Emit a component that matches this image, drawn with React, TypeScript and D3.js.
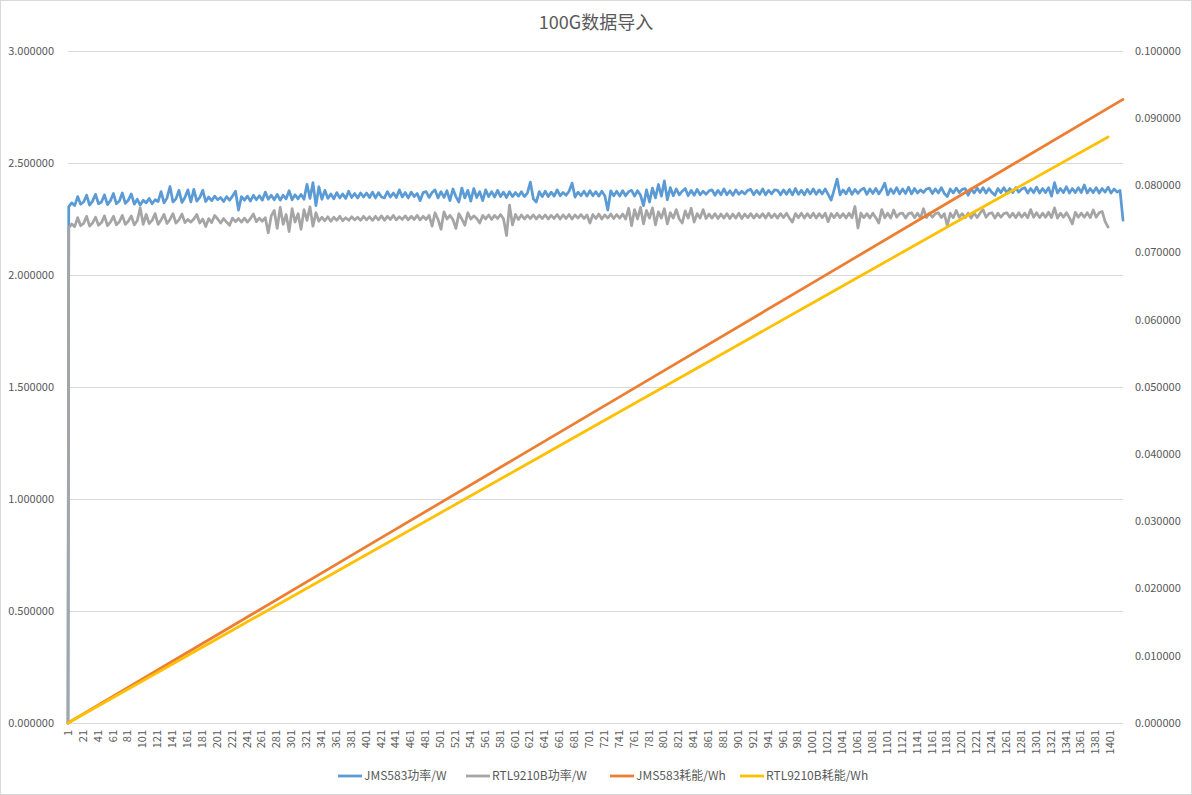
import { useEffect, useRef } from 'react';
import * as d3 from 'd3';

// power samples: first reading at category 1, then one reading every 4 categories from category 2
const CAT_COUNT = 1418;
const SAMPLE_STEP = 4;
const FIRST_READING = 0;

const jmsPower = [
  2.305, 2.322, 2.310, 2.350, 2.316, 2.326, 2.356, 2.312, 2.330, 2.360, 2.318, 2.326, 2.358, 2.314, 2.332, 2.364, 2.318, 2.330, 2.366, 2.320,
  2.334, 2.362, 2.316, 2.338, 2.312, 2.334, 2.322, 2.342, 2.318, 2.336, 2.328, 2.372, 2.322, 2.344, 2.395, 2.326, 2.340, 2.378, 2.324, 2.346,
  2.380, 2.326, 2.382, 2.330, 2.346, 2.378, 2.328, 2.348, 2.332, 2.352, 2.336, 2.346, 2.328, 2.350, 2.334, 2.352, 2.374, 2.290, 2.350, 2.334,
  2.352, 2.330, 2.356, 2.336, 2.354, 2.334, 2.370, 2.338, 2.356, 2.336, 2.360, 2.334, 2.356, 2.340, 2.376, 2.336, 2.358, 2.340, 2.360, 2.338,
  2.405, 2.342, 2.412, 2.310, 2.394, 2.338, 2.378, 2.342, 2.362, 2.340, 2.368, 2.344, 2.362, 2.342, 2.374, 2.346, 2.364, 2.344, 2.366, 2.348,
  2.366, 2.346, 2.370, 2.344, 2.368, 2.348, 2.344, 2.372, 2.348, 2.366, 2.346, 2.380, 2.348, 2.368, 2.344, 2.370, 2.350, 2.364, 2.332, 2.368,
  2.372, 2.346, 2.368, 2.380, 2.344, 2.372, 2.346, 2.376, 2.332, 2.384, 2.350, 2.326, 2.388, 2.344, 2.378, 2.330, 2.386, 2.346, 2.372, 2.332,
  2.380, 2.350, 2.372, 2.348, 2.378, 2.350, 2.370, 2.346, 2.372, 2.350, 2.368, 2.352, 2.372, 2.350, 2.366, 2.415, 2.340, 2.326, 2.372, 2.350,
  2.374, 2.350, 2.370, 2.352, 2.380, 2.354, 2.368, 2.356, 2.374, 2.410, 2.348, 2.370, 2.354, 2.374, 2.352, 2.376, 2.354, 2.372, 2.352, 2.374,
  2.354, 2.290, 2.376, 2.354, 2.374, 2.352, 2.376, 2.354, 2.372, 2.378, 2.352, 2.376, 2.356, 2.310, 2.380, 2.326, 2.388, 2.344, 2.404, 2.352,
  2.420, 2.336, 2.390, 2.354, 2.384, 2.358, 2.374, 2.386, 2.354, 2.378, 2.356, 2.382, 2.358, 2.374, 2.360, 2.376, 2.380, 2.356, 2.378, 2.358,
  2.384, 2.358, 2.376, 2.356, 2.380, 2.360, 2.374, 2.362, 2.378, 2.382, 2.358, 2.378, 2.360, 2.384, 2.358, 2.378, 2.362, 2.380, 2.378, 2.358,
  2.380, 2.360, 2.382, 2.358, 2.386, 2.360, 2.378, 2.358, 2.382, 2.362, 2.384, 2.360, 2.380, 2.362, 2.384, 2.360, 2.334, 2.380, 2.428, 2.358,
  2.380, 2.362, 2.388, 2.360, 2.382, 2.364, 2.380, 2.388, 2.360, 2.384, 2.364, 2.386, 2.362, 2.382, 2.410, 2.358, 2.384, 2.364, 2.390, 2.362,
  2.384, 2.364, 2.392, 2.362, 2.386, 2.366, 2.380, 2.368, 2.384, 2.388, 2.364, 2.384, 2.366, 2.390, 2.364, 2.350, 2.384, 2.366, 2.388, 2.368,
  2.382, 2.386, 2.356, 2.384, 2.366, 2.388, 2.368, 2.390, 2.366, 2.386, 2.368, 2.356, 2.386, 2.368, 2.390, 2.366, 2.386, 2.368, 2.390, 2.370,
  2.384, 2.390, 2.366, 2.386, 2.368, 2.392, 2.366, 2.386, 2.368, 2.390, 2.352, 2.412, 2.366, 2.386, 2.368, 2.394, 2.366, 2.386, 2.368, 2.390,
  2.368, 2.402, 2.366, 2.386, 2.368, 2.390, 2.366, 2.386, 2.370, 2.392, 2.366, 2.384, 2.370, 2.378, 2.245,
];

const rtlPower = [
  2.210, 2.228, 2.216, 2.256, 2.220, 2.230, 2.262, 2.218, 2.232, 2.258, 2.222, 2.234, 2.264, 2.220, 2.236, 2.262, 2.224, 2.238, 2.266, 2.226,
  2.240, 2.264, 2.224, 2.242, 2.300, 2.226, 2.270, 2.230, 2.244, 2.274, 2.226, 2.246, 2.270, 2.230, 2.248, 2.274, 2.232, 2.246, 2.272, 2.234,
  2.248, 2.236, 2.250, 2.270, 2.232, 2.250, 2.216, 2.252, 2.234, 2.266, 2.250, 2.232, 2.252, 2.236, 2.222, 2.254, 2.238, 2.252, 2.236, 2.254,
  2.236, 2.252, 2.272, 2.238, 2.254, 2.240, 2.256, 2.188, 2.264, 2.288, 2.208, 2.302, 2.226, 2.270, 2.194, 2.296, 2.236, 2.274, 2.204, 2.292,
  2.244, 2.304, 2.218, 2.278, 2.240, 2.258, 2.242, 2.260, 2.240, 2.258, 2.244, 2.262, 2.242, 2.256, 2.244, 2.260, 2.246, 2.258, 2.244, 2.262,
  2.246, 2.260, 2.244, 2.262, 2.246, 2.264, 2.244, 2.262, 2.248, 2.266, 2.246, 2.260, 2.248, 2.264, 2.246, 2.262, 2.248, 2.266, 2.246, 2.262,
  2.248, 2.266, 2.218, 2.278, 2.248, 2.204, 2.282, 2.250, 2.266, 2.248, 2.208, 2.274, 2.250, 2.222, 2.278, 2.250, 2.264, 2.252, 2.232, 2.266,
  2.250, 2.268, 2.248, 2.266, 2.252, 2.270, 2.250, 2.176, 2.312, 2.224, 2.270, 2.248, 2.268, 2.250, 2.266, 2.252, 2.268, 2.250, 2.266, 2.252,
  2.268, 2.250, 2.266, 2.252, 2.270, 2.250, 2.268, 2.252, 2.270, 2.250, 2.268, 2.254, 2.270, 2.252, 2.268, 2.232, 2.270, 2.252, 2.272, 2.250,
  2.268, 2.254, 2.272, 2.252, 2.270, 2.254, 2.272, 2.250, 2.298, 2.220, 2.292, 2.250, 2.302, 2.228, 2.288, 2.254, 2.300, 2.224, 2.282, 2.254,
  2.296, 2.228, 2.278, 2.254, 2.292, 2.250, 2.232, 2.286, 2.254, 2.298, 2.236, 2.274, 2.254, 2.292, 2.252, 2.272, 2.254, 2.274, 2.252, 2.272,
  2.254, 2.274, 2.252, 2.272, 2.254, 2.276, 2.252, 2.272, 2.256, 2.274, 2.254, 2.272, 2.256, 2.274, 2.254, 2.276, 2.256, 2.272, 2.254, 2.274,
  2.256, 2.276, 2.254, 2.236, 2.274, 2.256, 2.276, 2.254, 2.274, 2.256, 2.276, 2.254, 2.274, 2.256, 2.276, 2.238, 2.274, 2.256, 2.276, 2.256,
  2.274, 2.254, 2.276, 2.256, 2.306, 2.210, 2.276, 2.256, 2.274, 2.254, 2.276, 2.256, 2.232, 2.292, 2.256, 2.276, 2.254, 2.290, 2.258, 2.274,
  2.276, 2.254, 2.274, 2.278, 2.256, 2.276, 2.254, 2.296, 2.256, 2.276, 2.258, 2.274, 2.278, 2.256, 2.274, 2.220, 2.276, 2.256, 2.288, 2.258,
  2.274, 2.256, 2.276, 2.254, 2.278, 2.256, 2.276, 2.292, 2.258, 2.274, 2.278, 2.254, 2.276, 2.258, 2.274, 2.278, 2.258, 2.276, 2.256, 2.278,
  2.258, 2.276, 2.256, 2.292, 2.258, 2.278, 2.256, 2.276, 2.258, 2.280, 2.256, 2.300, 2.254, 2.276, 2.258, 2.278, 2.256, 2.228, 2.280, 2.258,
  2.276, 2.258, 2.278, 2.256, 2.290, 2.258, 2.278, 2.284, 2.238, 2.214,
];

// cumulative energy, read at a few categories (the lines are straight)
const jmsEnergyCats = [1, 201, 401, 601, 801, 1001, 1201, 1418];
const jmsEnergy = [0, 0.0131, 0.0262, 0.0393, 0.0524, 0.0655, 0.0786, 0.0928];
const rtlEnergyCats = [1, 201, 401, 601, 801, 1001, 1201, 1398];
const rtlEnergy = [0, 0.0125, 0.0250, 0.0375, 0.0500, 0.0625, 0.0750, 0.0872];

const leftTicks = [0, 0.5, 1, 1.5, 2, 2.5, 3];
const rightTicks = [0, 0.01, 0.02, 0.03, 0.04, 0.05, 0.06, 0.07, 0.08, 0.09, 0.1];
const xLabelStep = 20;

const seriesNames = ['JMS583功率/W', 'RTL9210B功率/W', 'JMS583耗能/Wh', 'RTL9210B耗能/Wh'];
const seriesColors = ['#5B9BD5', '#A5A5A5', '#ED7D31', '#FFC000'];
const legendX = [338, 466, 610, 740];

type Pt = { c: number; v: number };

export default function App() {
  const svgRef = useRef<SVGSVGElement>(null);
  const width = 1192;
  const height = 795;

  useEffect(() => {
    if (!svgRef.current) return;
    const svg = d3.select(svgRef.current);
    svg.selectAll('*').remove();

    const font = '"Noto Sans CJK SC", "Noto Sans", sans-serif';
    const textColor = '#595959';
    const margin = { top: 51, right: 69, bottom: 72, left: 68 };

    const x = d3.scaleLinear().domain([1, CAT_COUNT]).range([margin.left, width - margin.right]);
    const yL = d3.scaleLinear().domain([0, 3]).range([height - margin.bottom, margin.top]);
    const yR = d3.scaleLinear().domain([0, 0.1]).range([height - margin.bottom, margin.top]);

    svg.append('rect')
      .attr('x', 0.5).attr('y', 0.5)
      .attr('width', width - 1).attr('height', height - 1)
      .attr('fill', '#fff').attr('stroke', '#d9d9d9');

    svg.append('text')
      .attr('x', width / 2).attr('y', 29)
      .attr('text-anchor', 'middle')
      .attr('fill', textColor)
      .attr('font-family', font)
      .attr('font-size', '18px')
      .text('100G数据导入');

    // gridlines
    svg.append('g').selectAll('line')
      .data(leftTicks)
      .enter().append('line')
      .attr('x1', margin.left).attr('x2', width - margin.right)
      .attr('y1', d => Math.round(yL(d)) + 0.5).attr('y2', d => Math.round(yL(d)) + 0.5)
      .attr('stroke', '#d9d9d9').attr('stroke-width', 1);

    svg.append('g').selectAll('text')
      .data(leftTicks)
      .enter().append('text')
      .attr('x', 54).attr('y', d => yL(d))
      .attr('dy', '0.35em')
      .attr('text-anchor', 'end')
      .attr('fill', textColor)
      .attr('font-family', font)
      .attr('font-size', '11px')
      .text(d => d3.format('.6f')(d));

    svg.append('g').selectAll('text')
      .data(rightTicks)
      .enter().append('text')
      .attr('x', 1135).attr('y', d => yR(d))
      .attr('dy', '0.35em')
      .attr('fill', textColor)
      .attr('font-family', font)
      .attr('font-size', '11px')
      .text(d => d3.format('.6f')(d));

    const xLabels = d3.range(1, CAT_COUNT, xLabelStep);
    svg.append('g').selectAll('text')
      .data(xLabels)
      .enter().append('text')
      .attr('transform', d => `translate(${x(d)},730) rotate(-90)`)
      .attr('text-anchor', 'end')
      .attr('dy', '0.35em')
      .attr('fill', textColor)
      .attr('font-family', font)
      .attr('font-size', '11px')
      .text(d => `${d}`);

    const toPoints = (vals: number[]): Pt[] => [
      { c: 1, v: FIRST_READING },
      ...vals.map((v, i) => ({ c: 2 + i * SAMPLE_STEP, v })),
    ];
    const zip = (cats: number[], vals: number[]): Pt[] => cats.map((c, i) => ({ c, v: vals[i] }));

    const lineL = d3.line<Pt>().x(d => x(d.c)).y(d => yL(d.v));
    const lineR = d3.line<Pt>().x(d => x(d.c)).y(d => yR(d.v));

    const plot = svg.append('g')
      .attr('fill', 'none')
      .attr('stroke-width', 2.75)
      .attr('stroke-linejoin', 'round')
      .attr('stroke-linecap', 'round');

    plot.append('path').datum(toPoints(jmsPower)).attr('stroke', seriesColors[0]).attr('d', lineL);
    plot.append('path').datum(toPoints(rtlPower)).attr('stroke', seriesColors[1]).attr('d', lineL);
    plot.append('path').datum(zip(jmsEnergyCats, jmsEnergy)).attr('stroke', seriesColors[2]).attr('d', lineR);
    plot.append('path').datum(zip(rtlEnergyCats, rtlEnergy)).attr('stroke', seriesColors[3]).attr('d', lineR);

    const legend = svg.append('g');
    seriesNames.forEach((name, i) => {
      const g = legend.append('g').attr('transform', `translate(${legendX[i]},776)`);
      g.append('line')
        .attr('x1', 0).attr('x2', 24).attr('y1', 0).attr('y2', 0)
        .attr('stroke', seriesColors[i]).attr('stroke-width', 2.75);
      g.append('text')
        .attr('x', 26).attr('y', 0).attr('dy', '0.35em')
        .attr('fill', textColor)
        .attr('font-family', font)
        .attr('font-size', '12px')
        .text(name);
    });
  }, []);

  return (
    <svg
      ref={svgRef}
      width={width}
      height={height}
      style={{ position: 'absolute', left: 0, top: 0, display: 'block' }}
    />
  );
}
